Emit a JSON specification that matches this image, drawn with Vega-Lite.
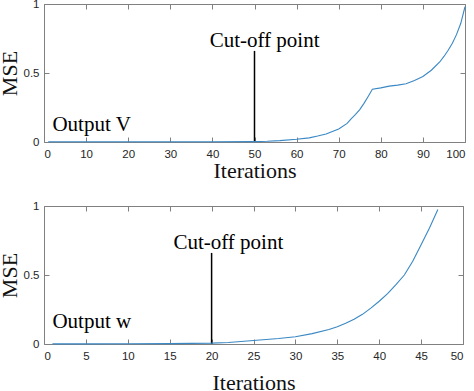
{
  "$schema": "https://vega.github.io/schema/vega-lite/v6.json",
  "padding": {"left": -2, "top": -2, "right": 8, "bottom": 0},
  "background": "white",
  "spacing": 18,
  "config": {
    "view": {"stroke": null},
    "axis": {
      "grid": false,
      "domainColor": "#808080",
      "tickColor": "#808080",
      "tickSize": -5,
      "format": "~r",
      "labelFont": "Liberation Sans",
      "labelFontSize": 11.5,
      "labelColor": "#262626",
      "titleFont": "Liberation Serif",
      "titleFontSize": 22,
      "titleFontWeight": "normal",
      "titleColor": "#111111"
    }
  },
  "datasets": {
    "v": [
      {"it": 1, "mse": 0.002}, {"it": 10, "mse": 0.002}, {"it": 20, "mse": 0.002}, {"it": 30, "mse": 0.002},
      {"it": 40, "mse": 0.002}, {"it": 50, "mse": 0.003}, {"it": 53, "mse": 0.005}, {"it": 56, "mse": 0.01},
      {"it": 60, "mse": 0.02}, {"it": 63, "mse": 0.03}, {"it": 65, "mse": 0.043}, {"it": 67, "mse": 0.058},
      {"it": 70, "mse": 0.095}, {"it": 72, "mse": 0.135}, {"it": 73, "mse": 0.17}, {"it": 74, "mse": 0.2},
      {"it": 75, "mse": 0.235}, {"it": 76, "mse": 0.28}, {"it": 77, "mse": 0.33}, {"it": 78, "mse": 0.382},
      {"it": 80, "mse": 0.392}, {"it": 82, "mse": 0.405}, {"it": 84, "mse": 0.412}, {"it": 86, "mse": 0.422},
      {"it": 88, "mse": 0.445}, {"it": 90, "mse": 0.475}, {"it": 92, "mse": 0.52}, {"it": 94, "mse": 0.58},
      {"it": 95, "mse": 0.62}, {"it": 96, "mse": 0.665}, {"it": 97, "mse": 0.715}, {"it": 98, "mse": 0.78},
      {"it": 99, "mse": 0.86}, {"it": 100, "mse": 0.98}
    ],
    "w": [
      {"it": 1, "mse": 0.001}, {"it": 5, "mse": 0.001}, {"it": 10, "mse": 0.002}, {"it": 15, "mse": 0.003},
      {"it": 20, "mse": 0.006}, {"it": 22, "mse": 0.011}, {"it": 25, "mse": 0.025}, {"it": 28, "mse": 0.04},
      {"it": 30, "mse": 0.053}, {"it": 32, "mse": 0.075}, {"it": 34, "mse": 0.105}, {"it": 35, "mse": 0.125},
      {"it": 36, "mse": 0.15}, {"it": 37, "mse": 0.18}, {"it": 38, "mse": 0.215}, {"it": 39, "mse": 0.26},
      {"it": 40, "mse": 0.31}, {"it": 41, "mse": 0.365}, {"it": 42, "mse": 0.43}, {"it": 43, "mse": 0.5},
      {"it": 44, "mse": 0.6}, {"it": 45, "mse": 0.72}, {"it": 46, "mse": 0.84}, {"it": 47, "mse": 0.975}
    ],
    "annot": [
      {"panel": "V", "cx": 50, "y0": 0, "y1": 0.66, "tx": 52.4, "ty": 0.69, "label": "Cut-off point", "ox": 2, "oy": 0.08, "olabel": "Output V"},
      {"panel": "w", "cx": 20, "y0": 0, "y1": 0.66, "tx": 22, "ty": 0.69, "label": "Cut-off point", "ox": 1, "oy": 0.115, "olabel": "Output w"}
    ]
  },
  "vconcat": [
    {
      "width": 421,
      "height": 138,
      "layer": [
        {
          "data": {"name": "annot"},
          "transform": [{"filter": "datum.panel === 'V'"}],
          "mark": {"type": "rule", "color": "black", "strokeWidth": 1.5},
          "encoding": {
            "x": {"field": "cx", "type": "quantitative", "scale": {"domain": [0, 100], "nice": false},
                  "axis": {"orient": "top", "labels": false, "title": null, "values": [0,10,20,30,40,50,60,70,80,90,100]}},
            "y": {"field": "y0", "type": "quantitative", "scale": {"domain": [0, 1], "nice": false},
                  "axis": {"orient": "right", "labels": false, "title": null, "values": [0, 0.5, 1]}},
            "y2": {"field": "y1"}
          }
        },
        {
          "data": {"name": "v"},
          "mark": {"type": "line", "color": "#3a88c4", "strokeWidth": 1.1},
          "encoding": {
            "x": {"field": "it", "type": "quantitative",
                  "axis": {"orient": "bottom", "title": "Iterations", "values": [0,10,20,30,40,50,60,70,80,90,100], "titlePadding": 1, "labelPadding": 11}},
            "y": {"field": "mse", "type": "quantitative",
                  "axis": {"orient": "left", "title": "MSE", "values": [0, 0.5, 1], "titlePadding": 2, "labelPadding": 10}}
          }
        },
        {
          "data": {"name": "annot"},
          "transform": [{"filter": "datum.panel === 'V'"}],
          "mark": {"type": "text", "font": "Liberation Serif", "fontSize": 21, "align": "center", "baseline": "alphabetic", "color": "black"},
          "encoding": {
            "x": {"field": "tx", "type": "quantitative", "axis": null},
            "y": {"field": "ty", "type": "quantitative", "axis": null},
            "text": {"field": "label"}
          }
        },
        {
          "data": {"name": "annot"},
          "transform": [{"filter": "datum.panel === 'V'"}],
          "mark": {"type": "text", "font": "Liberation Serif", "fontSize": 21, "align": "left", "baseline": "alphabetic", "color": "black"},
          "encoding": {
            "x": {"field": "ox", "type": "quantitative", "axis": null},
            "y": {"field": "oy", "type": "quantitative", "axis": null},
            "text": {"field": "olabel"}
          }
        }
      ],
      "resolve": {"axis": {"x": "independent", "y": "independent"}}
    },
    {
      "width": 419,
      "height": 138,
      "layer": [
        {
          "data": {"name": "annot"},
          "transform": [{"filter": "datum.panel === 'w'"}],
          "mark": {"type": "rule", "color": "black", "strokeWidth": 1.5},
          "encoding": {
            "x": {"field": "cx", "type": "quantitative", "scale": {"domain": [0, 50], "nice": false},
                  "axis": {"orient": "top", "labels": false, "title": null, "values": [0,5,10,15,20,25,30,35,40,45,50]}},
            "y": {"field": "y0", "type": "quantitative", "scale": {"domain": [0, 1], "nice": false},
                  "axis": {"orient": "right", "labels": false, "title": null, "values": [0, 0.5, 1]}},
            "y2": {"field": "y1"}
          }
        },
        {
          "data": {"name": "w"},
          "mark": {"type": "line", "color": "#3a88c4", "strokeWidth": 1.1},
          "encoding": {
            "x": {"field": "it", "type": "quantitative",
                  "axis": {"orient": "bottom", "title": "Iterations", "values": [0,5,10,15,20,25,30,35,40,45,50], "titlePadding": 11, "labelPadding": 11}},
            "y": {"field": "mse", "type": "quantitative",
                  "axis": {"orient": "left", "title": "MSE", "values": [0, 0.5, 1], "titlePadding": 2, "labelPadding": 10}}
          }
        },
        {
          "data": {"name": "annot"},
          "transform": [{"filter": "datum.panel === 'w'"}],
          "mark": {"type": "text", "font": "Liberation Serif", "fontSize": 21, "align": "center", "baseline": "alphabetic", "color": "black"},
          "encoding": {
            "x": {"field": "tx", "type": "quantitative", "axis": null},
            "y": {"field": "ty", "type": "quantitative", "axis": null},
            "text": {"field": "label"}
          }
        },
        {
          "data": {"name": "annot"},
          "transform": [{"filter": "datum.panel === 'w'"}],
          "mark": {"type": "text", "font": "Liberation Serif", "fontSize": 21, "align": "left", "baseline": "alphabetic", "color": "black"},
          "encoding": {
            "x": {"field": "ox", "type": "quantitative", "axis": null},
            "y": {"field": "oy", "type": "quantitative", "axis": null},
            "text": {"field": "olabel"}
          }
        }
      ],
      "resolve": {"axis": {"x": "independent", "y": "independent"}}
    }
  ]
}
